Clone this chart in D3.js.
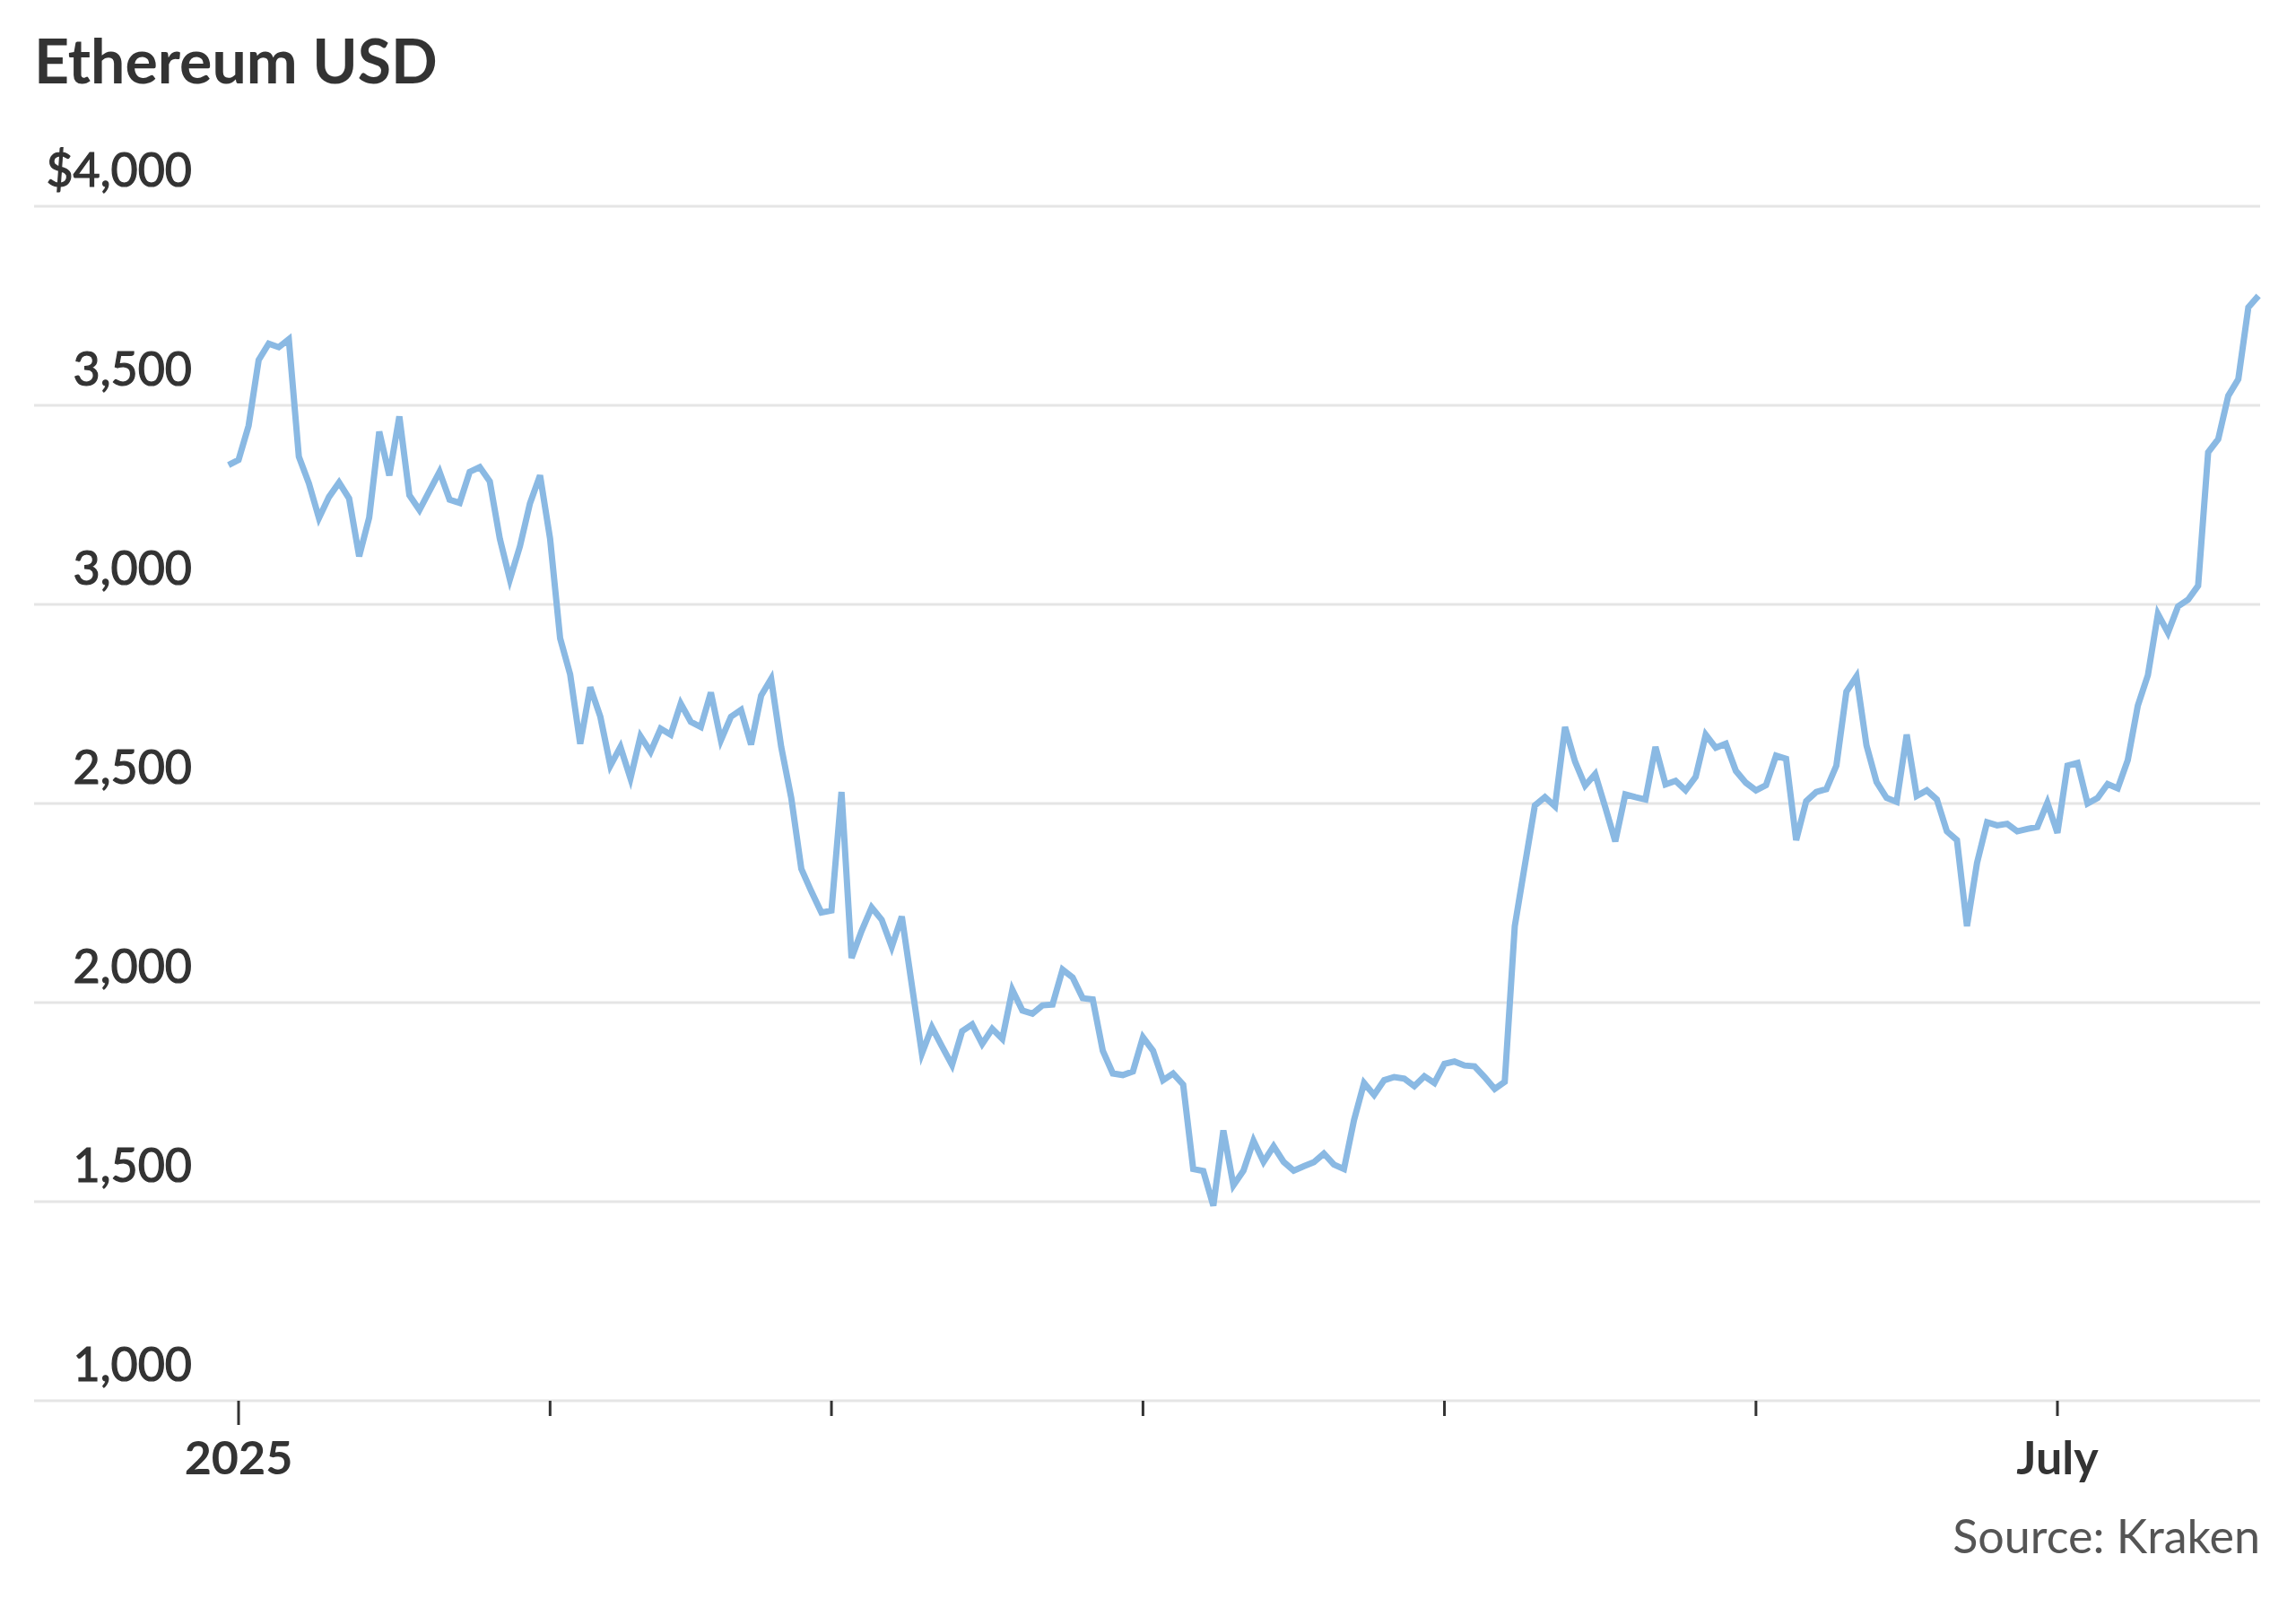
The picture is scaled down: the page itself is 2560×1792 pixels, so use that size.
<!DOCTYPE html>
<html>
<head>
<meta charset="utf-8">
<script src="https://cdn.jsdelivr.net/npm/d3@7"></script>
<style>
  html, body { margin: 0; padding: 0; background: #ffffff; }
  svg { display: block; }
</style>
</head>
<body>
<svg id="chart" width="2560" height="1792"></svg>
<script>
// ---- Data (daily ETH/USD closes) ----
const startDate = "2024-12-31";
const prices = [
  3350, 3363, 3449, 3614, 3655, 3646, 3666, 3371, 3304, 3217,
  3270, 3306, 3266, 3121, 3218, 3434, 3324, 3472, 3274, 3237,
  3285, 3333, 3263, 3255, 3333, 3345, 3309, 3165, 3063, 3146,
  3254, 3324, 3165, 2915, 2824, 2650, 2792, 2718, 2595, 2642,
  2563, 2669, 2630, 2688, 2673, 2751, 2705, 2692, 2779, 2659,
  2718, 2735, 2648, 2771, 2813, 2642, 2514, 2336, 2279, 2226,
  2231, 2529, 2112, 2180, 2239, 2208, 2140, 2216, 2044, 1872,
  1938, 1890, 1843, 1928, 1945, 1896, 1934, 1909, 2032, 1980,
  1972, 1993, 1995, 2083, 2063, 2011, 2008, 1879, 1822, 1818,
  1827, 1913, 1879, 1805, 1822, 1794, 1582, 1577, 1490, 1679,
  1541, 1578, 1653, 1600, 1639, 1600, 1578, 1589, 1599, 1621,
  1593, 1582, 1705, 1798, 1768, 1805, 1813, 1809, 1790, 1815,
  1798, 1846, 1852, 1842, 1840, 1813, 1783, 1801, 2192, 2345,
  2495, 2516, 2493, 2692, 2605, 2545, 2574, 2491, 2405, 2523,
  2516, 2510, 2642, 2548, 2557, 2533, 2567, 2673, 2640, 2650,
  2582, 2552, 2533, 2546, 2620, 2612, 2408, 2506, 2529, 2536,
  2595, 2781, 2819, 2646, 2554, 2514, 2504, 2673, 2519, 2533,
  2510, 2430, 2408, 2192, 2351, 2453, 2445, 2449, 2430, 2436,
  2441, 2502, 2426, 2595, 2602, 2500, 2514, 2549, 2538, 2609,
  2746, 2822, 2976, 2929, 2995, 3012, 3047, 3382, 3415, 3524,
  3566, 3746, 3775
];
const yTicks = [1000, 1500, 2000, 2500, 3000, 3500, 4000];
const yTickLabels = ["1,000", "1,500", "2,000", "2,500", "3,000", "3,500", "$4,000"];
const xTickDates = ["2025-01-01", "2025-02-01", "2025-03-01", "2025-04-01", "2025-05-01", "2025-06-01", "2025-07-01"];
const xTickLabels = ["2025", "", "", "", "", "", "July"];
const title = "Ethereum USD";
const sourceText = "Source: Kraken";

// ---- Build table ----
const parse = d3.utcParse("%Y-%m-%d");
const t0 = parse(startDate);
const data = prices.map((v, i) => ({ date: d3.utcDay.offset(t0, i), value: v }));

// ---- Layout ----
const svg = d3.select("#chart");
const gridLeft = 38, gridRight = 2520;
const x = d3.scaleUtc()
  .domain([parse("2025-01-01"), parse("2025-07-01")])
  .range([266, 2294]);
const y = d3.scaleLinear().domain([1000, 4000]).range([1562, 230]);

const font = "Lato, 'Noto Sans', sans-serif";

// Title
svg.append("text")
  .attr("x", 38).attr("y", 93)
  .attr("font-family", font).attr("font-weight", 700)
  .attr("font-size", 68).attr("fill", "#333333")
  .text(title);

// Gridlines
svg.append("g").selectAll("line").data(yTicks).join("line")
  .attr("x1", gridLeft).attr("x2", gridRight)
  .attr("y1", d => y(d)).attr("y2", d => y(d))
  .attr("stroke", "#e5e5e5").attr("stroke-width", 3);

// Y labels
svg.append("g").selectAll("text").data(yTicks).join("text")
  .attr("x", 214).attr("y", d => y(d) - 22)
  .attr("text-anchor", "end")
  .attr("font-family", font).attr("font-weight", 400)
  .attr("font-size", 52).attr("fill", "#333333")
  .attr("stroke", "#333333").attr("stroke-width", 1.2)
  .text((d, i) => yTickLabels[i]);

// X ticks & labels
const xt = svg.append("g");
xt.selectAll("line").data(xTickDates).join("line")
  .attr("x1", d => x(parse(d))).attr("x2", d => x(parse(d)))
  .attr("y1", y(1000)).attr("y2", (d, i) => y(1000) + (i === 0 ? 27 : 17))
  .attr("stroke", "#333333").attr("stroke-width", 3);
xt.selectAll("text").data(xTickDates).join("text")
  .attr("x", d => x(parse(d))).attr("y", 1644)
  .attr("text-anchor", "middle")
  .attr("font-family", font).attr("font-weight", 700)
  .attr("font-size", 52).attr("fill", "#333333")
  .text((d, i) => xTickLabels[i]);

// Line
const line = d3.line().x(d => x(d.date)).y(d => y(d.value));
svg.append("path").datum(data)
  .attr("d", line)
  .attr("fill", "none")
  .attr("stroke", "#8ab9e3")
  .attr("stroke-width", 7)
  .attr("stroke-linejoin", "miter");

// Source
svg.append("text")
  .attr("x", 2520).attr("y", 1732)
  .attr("text-anchor", "end")
  .attr("font-family", font).attr("font-weight", 400)
  .attr("font-size", 52).attr("fill", "#555555")
  .text(sourceText);
</script>
</body>
</html>
